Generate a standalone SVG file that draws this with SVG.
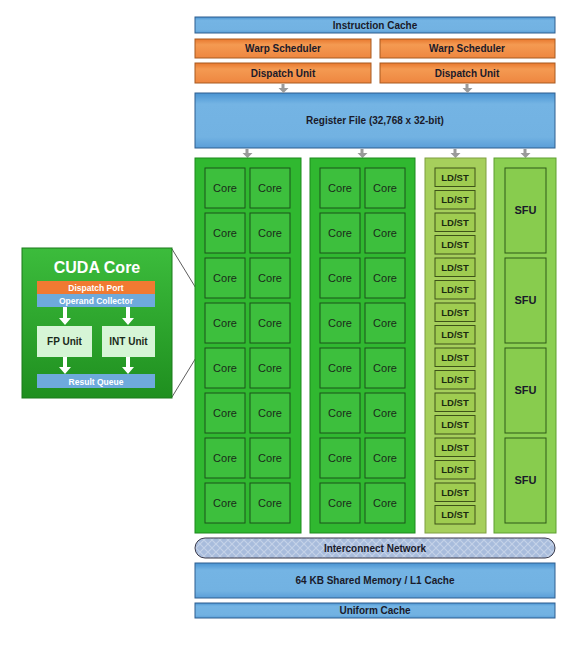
<svg xmlns="http://www.w3.org/2000/svg" width="570" height="664" viewBox="0 0 570 664">
<style>
.t{font-family:"Liberation Sans",Arial,sans-serif;font-weight:bold;fill:#1a1a2a;text-anchor:middle}
.blue{fill:url(#gb);stroke:#2f5f8f;stroke-width:1}
.org{fill:url(#go);stroke:#a85a20;stroke-width:1}
.col{fill:#30b830;stroke:#1c8a1c;stroke-width:1}
.core{fill:#3dbf3d;stroke:#1b531b;stroke-width:1}
.ct{font-family:"Liberation Sans",Arial,sans-serif;font-size:11px;fill:#1a2a1a;text-anchor:middle}
.ldc{fill:#a6cf5c;stroke:#7f9f40;stroke-width:1}
.ld{fill:#9fcc50;stroke:#3e5318;stroke-width:1}
.sfc{fill:#8bcf52;stroke:#5f9f30;stroke-width:1}
.sf{fill:#88cc4e;stroke:#2e5a18;stroke-width:1}
.arr{fill:#9a9a9a}
.wa{fill:#ffffff}
.lt{font-family:"Liberation Sans",Arial,sans-serif;font-weight:bold;font-size:9.5px;fill:#1a2a10;text-anchor:middle}
</style>
<defs>
<linearGradient id="gb" x1="0" y1="0" x2="0" y2="1">
<stop offset="0" stop-color="#4a94d2"/>
<stop offset="0.2" stop-color="#74b4e4"/>
<stop offset="0.8" stop-color="#72b2e2"/>
<stop offset="1" stop-color="#5a9ed8"/>
</linearGradient>
<linearGradient id="go" x1="0" y1="0" x2="0" y2="1">
<stop offset="0" stop-color="#e8782e"/>
<stop offset="0.3" stop-color="#f49a52"/>
<stop offset="1" stop-color="#ee8640"/>
</linearGradient>
<linearGradient id="gg" x1="0" y1="0" x2="0" y2="1">
<stop offset="0" stop-color="#3cbc3c"/>
<stop offset="1" stop-color="#1f8f1f"/>
</linearGradient>
<pattern id="hatch" width="8" height="8" patternUnits="userSpaceOnUse">
<rect width="8" height="8" fill="#a8bcdc"/>
<path d="M0,0 L8,8 M8,0 L0,8" stroke="#c4d2e8" stroke-width="1.2"/>
</pattern>
</defs>

<g id="instruction-cache"><rect class="blue" x="195" y="17" width="360" height="16"/><text class="t" x="375" y="28.5" font-size="10">Instruction Cache</text></g>
<g id="warp-scheduler-1"><rect class="org" x="195" y="39" width="176" height="19"/><text class="t" x="283" y="52" font-size="10">Warp Scheduler</text></g>
<g id="warp-scheduler-2"><rect class="org" x="380" y="39" width="175" height="19"/><text class="t" x="467" y="52" font-size="10">Warp Scheduler</text></g>
<g id="dispatch-unit-1"><rect class="org" x="195" y="63" width="176" height="20"/><text class="t" x="283" y="76.5" font-size="10">Dispatch Unit</text></g>
<g id="dispatch-unit-2"><rect class="org" x="380" y="63" width="175" height="20"/><text class="t" x="467" y="76.5" font-size="10">Dispatch Unit</text></g>
<g id="register-file"><rect class="blue" x="195" y="93" width="360" height="55"/><text class="t" x="375" y="124" font-size="10">Register File (32,768 x 32-bit)</text></g>

<g id="connectors">
<path class="arr" d="M281.5,84 h3 v4 h4 l-5,5 l-5,-5 h3 z"/>
<path class="arr" d="M465.5,84 h3 v4 h4 l-5,5 l-5,-5 h3 z"/>
<path class="arr" d="M245.5,149 h3 v4 h4 l-5,5 l-5,-5 h3 z"/>
<path class="arr" d="M360.5,149 h3 v4 h4 l-5,5 l-5,-5 h3 z"/>
<path class="arr" d="M453.5,149 h3 v4 h4 l-5,5 l-5,-5 h3 z"/>
<path class="arr" d="M523.5,149 h3 v4 h4 l-5,5 l-5,-5 h3 z"/>
<line x1="172" y1="249" x2="205" y2="303" stroke="#333" stroke-width="0.8"/>
<line x1="172" y1="397" x2="205" y2="343" stroke="#333" stroke-width="0.8"/>
</g>

<g id="core-column-1">
<rect class="col" x="195" y="158" width="106" height="375"/>
<g id="cores-1">
<rect class="core" x="205" y="168" width="40" height="40"/><rect class="core" x="250" y="168" width="40" height="40"/>
<rect class="core" x="205" y="213" width="40" height="40"/><rect class="core" x="250" y="213" width="40" height="40"/>
<rect class="core" x="205" y="258" width="40" height="40"/><rect class="core" x="250" y="258" width="40" height="40"/>
<rect class="core" x="205" y="303" width="40" height="40"/><rect class="core" x="250" y="303" width="40" height="40"/>
<rect class="core" x="205" y="348" width="40" height="40"/><rect class="core" x="250" y="348" width="40" height="40"/>
<rect class="core" x="205" y="393" width="40" height="40"/><rect class="core" x="250" y="393" width="40" height="40"/>
<rect class="core" x="205" y="438" width="40" height="40"/><rect class="core" x="250" y="438" width="40" height="40"/>
<rect class="core" x="205" y="483" width="40" height="40"/><rect class="core" x="250" y="483" width="40" height="40"/>
</g>
<g>
<text class="ct" x="225" y="192">Core</text><text class="ct" x="270" y="192">Core</text>
<text class="ct" x="225" y="237">Core</text><text class="ct" x="270" y="237">Core</text>
<text class="ct" x="225" y="282">Core</text><text class="ct" x="270" y="282">Core</text>
<text class="ct" x="225" y="327">Core</text><text class="ct" x="270" y="327">Core</text>
<text class="ct" x="225" y="372">Core</text><text class="ct" x="270" y="372">Core</text>
<text class="ct" x="225" y="417">Core</text><text class="ct" x="270" y="417">Core</text>
<text class="ct" x="225" y="462">Core</text><text class="ct" x="270" y="462">Core</text>
<text class="ct" x="225" y="507">Core</text><text class="ct" x="270" y="507">Core</text>
</g>
</g>

<g id="core-column-2">
<rect class="col" x="310" y="158" width="105" height="375"/>
<g>
<rect class="core" x="320" y="168" width="40" height="40"/><rect class="core" x="365" y="168" width="40" height="40"/>
<rect class="core" x="320" y="213" width="40" height="40"/><rect class="core" x="365" y="213" width="40" height="40"/>
<rect class="core" x="320" y="258" width="40" height="40"/><rect class="core" x="365" y="258" width="40" height="40"/>
<rect class="core" x="320" y="303" width="40" height="40"/><rect class="core" x="365" y="303" width="40" height="40"/>
<rect class="core" x="320" y="348" width="40" height="40"/><rect class="core" x="365" y="348" width="40" height="40"/>
<rect class="core" x="320" y="393" width="40" height="40"/><rect class="core" x="365" y="393" width="40" height="40"/>
<rect class="core" x="320" y="438" width="40" height="40"/><rect class="core" x="365" y="438" width="40" height="40"/>
<rect class="core" x="320" y="483" width="40" height="40"/><rect class="core" x="365" y="483" width="40" height="40"/>
</g>
<g>
<text class="ct" x="340" y="192">Core</text><text class="ct" x="385" y="192">Core</text>
<text class="ct" x="340" y="237">Core</text><text class="ct" x="385" y="237">Core</text>
<text class="ct" x="340" y="282">Core</text><text class="ct" x="385" y="282">Core</text>
<text class="ct" x="340" y="327">Core</text><text class="ct" x="385" y="327">Core</text>
<text class="ct" x="340" y="372">Core</text><text class="ct" x="385" y="372">Core</text>
<text class="ct" x="340" y="417">Core</text><text class="ct" x="385" y="417">Core</text>
<text class="ct" x="340" y="462">Core</text><text class="ct" x="385" y="462">Core</text>
<text class="ct" x="340" y="507">Core</text><text class="ct" x="385" y="507">Core</text>
</g>
</g>

<g id="ldst-column">
<rect class="ldc" x="425" y="158" width="61" height="375"/>
<g>
<rect class="ld" x="435" y="168" width="40" height="18.5"/>
<rect class="ld" x="435" y="190.5" width="40" height="18.5"/>
<rect class="ld" x="435" y="213" width="40" height="18.5"/>
<rect class="ld" x="435" y="235.5" width="40" height="18.5"/>
<rect class="ld" x="435" y="258" width="40" height="18.5"/>
<rect class="ld" x="435" y="280.5" width="40" height="18.5"/>
<rect class="ld" x="435" y="303" width="40" height="18.5"/>
<rect class="ld" x="435" y="325.5" width="40" height="18.5"/>
<rect class="ld" x="435" y="348" width="40" height="18.5"/>
<rect class="ld" x="435" y="370.5" width="40" height="18.5"/>
<rect class="ld" x="435" y="393" width="40" height="18.5"/>
<rect class="ld" x="435" y="415.5" width="40" height="18.5"/>
<rect class="ld" x="435" y="438" width="40" height="18.5"/>
<rect class="ld" x="435" y="460.5" width="40" height="18.5"/>
<rect class="ld" x="435" y="483" width="40" height="18.5"/>
<rect class="ld" x="435" y="505.5" width="40" height="18.5"/>
</g>
<g>
<text class="lt" x="455" y="180.5">LD/ST</text>
<text class="lt" x="455" y="203">LD/ST</text>
<text class="lt" x="455" y="225.5">LD/ST</text>
<text class="lt" x="455" y="248">LD/ST</text>
<text class="lt" x="455" y="270.5">LD/ST</text>
<text class="lt" x="455" y="293">LD/ST</text>
<text class="lt" x="455" y="315.5">LD/ST</text>
<text class="lt" x="455" y="338">LD/ST</text>
<text class="lt" x="455" y="360.5">LD/ST</text>
<text class="lt" x="455" y="383">LD/ST</text>
<text class="lt" x="455" y="405.5">LD/ST</text>
<text class="lt" x="455" y="428">LD/ST</text>
<text class="lt" x="455" y="450.5">LD/ST</text>
<text class="lt" x="455" y="473">LD/ST</text>
<text class="lt" x="455" y="495.5">LD/ST</text>
<text class="lt" x="455" y="518">LD/ST</text>
</g>
</g>

<g id="sfu-column">
<rect class="sfc" x="494" y="158" width="62" height="375"/>
<rect class="sf" x="505" y="168" width="41" height="85"/>
<rect class="sf" x="505" y="258" width="41" height="85"/>
<rect class="sf" x="505" y="348" width="41" height="85"/>
<rect class="sf" x="505" y="438" width="41" height="85"/>
<text class="t" x="525.5" y="214" font-size="11">SFU</text>
<text class="t" x="525.5" y="304" font-size="11">SFU</text>
<text class="t" x="525.5" y="394" font-size="11">SFU</text>
<text class="t" x="525.5" y="484" font-size="11">SFU</text>
</g>

<g id="interconnect-network"><rect x="195" y="538" width="360" height="20" rx="10" ry="10" fill="url(#hatch)" stroke="#3a3a4a" stroke-width="1"/><text class="t" x="375" y="551.5" font-size="10">Interconnect Network</text></g>
<g id="shared-memory"><rect class="blue" x="195" y="563" width="360" height="35"/><text class="t" x="375" y="584" font-size="10">64 KB Shared Memory / L1 Cache</text></g>
<g id="uniform-cache"><rect class="blue" x="195" y="603" width="360" height="15"/><text class="t" x="375" y="614" font-size="10">Uniform Cache</text></g>

<g id="cuda-core-inset">
<rect x="22" y="248" width="150" height="150" fill="url(#gg)" stroke="#1a7a1a" stroke-width="1"/>
<text x="97" y="273" font-family="Liberation Sans,Arial,sans-serif" font-weight="bold" font-size="16" fill="#ffffff" text-anchor="middle">CUDA Core</text>
<rect x="37" y="281" width="118" height="13" fill="#f07a32"/>
<text x="96" y="291" font-family="Liberation Sans,Arial,sans-serif" font-weight="bold" font-size="8.5" fill="#ffffff" text-anchor="middle">Dispatch Port</text>
<rect x="37" y="294" width="118" height="13" fill="#6eaadc"/>
<text x="96" y="304" font-family="Liberation Sans,Arial,sans-serif" font-weight="bold" font-size="8.5" fill="#ffffff" text-anchor="middle">Operand Collector</text>
<path class="wa" d="M63,307 h4 v11 h4 l-6,7 l-6,-7 h4 z"/>
<path class="wa" d="M126,307 h4 v11 h4 l-6,7 l-6,-7 h4 z"/>
<rect x="37" y="326" width="55" height="31" fill="#d6f5d6"/>
<text x="64.5" y="345" font-family="Liberation Sans,Arial,sans-serif" font-weight="bold" font-size="10" fill="#1a2a1a" text-anchor="middle">FP Unit</text>
<rect x="102" y="326" width="53" height="31" fill="#d6f5d6"/>
<text x="128.5" y="345" font-family="Liberation Sans,Arial,sans-serif" font-weight="bold" font-size="10" fill="#1a2a1a" text-anchor="middle">INT Unit</text>
<path class="wa" d="M63,357 h4 v10 h4 l-6,7 l-6,-7 h4 z"/>
<path class="wa" d="M126,357 h4 v10 h4 l-6,7 l-6,-7 h4 z"/>
<rect x="37" y="374" width="118" height="14" fill="#6eaadc"/>
<text x="96" y="384.5" font-family="Liberation Sans,Arial,sans-serif" font-weight="bold" font-size="8.5" fill="#ffffff" text-anchor="middle">Result Queue</text>
</g>
</svg>
